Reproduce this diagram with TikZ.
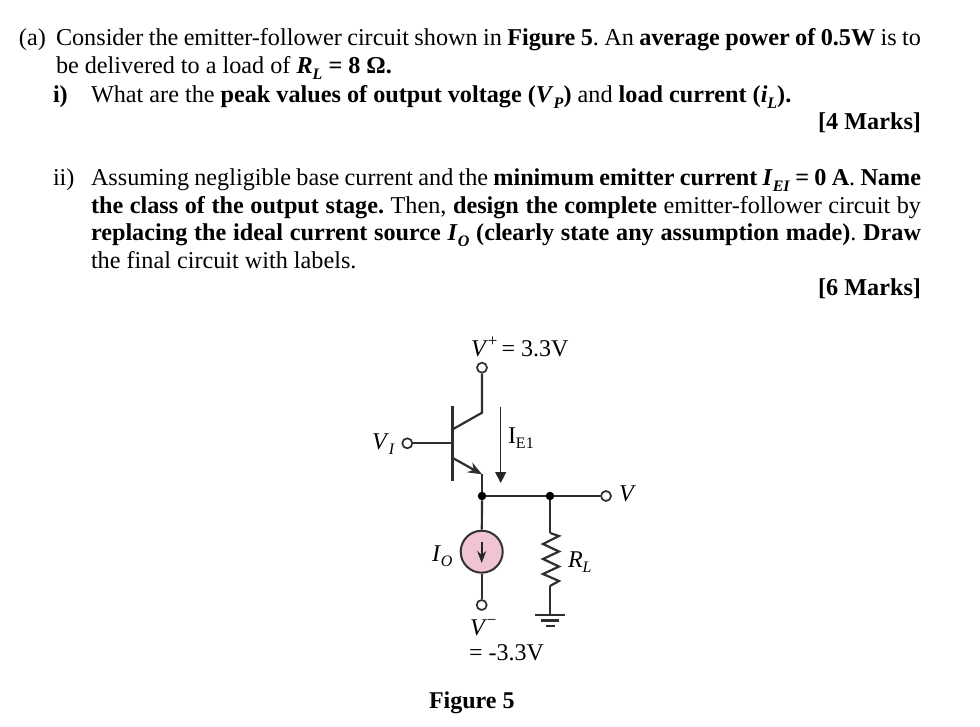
\documentclass[tikz,border=0pt]{standalone}
\usepackage{fontspec}
\setmainfont{Liberation Serif}
\usetikzlibrary{arrows.meta}
\frenchspacing
\newcommand{\lowtxt}[1]{\raisebox{-0.22em}{\fontsize{16}{16}\selectfont #1}}
\newcommand{\bi}[1]{\textbf{\textit{#1}}}
\newcommand{\fillline}[1]{\makebox[865pt][s]{#1}}
\newcommand{\fillb}[1]{\makebox[830pt][s]{#1}}
\tikzset{
  txt/.style={anchor=base west,inner sep=0pt,outer sep=0pt,font=\fontsize{24.2}{27}\selectfont},
  rtxt/.style={anchor=base east,inner sep=0pt,outer sep=0pt,font=\fontsize{24.2}{27}\selectfont},
  lab/.style={anchor=base west,inner sep=0pt,outer sep=0pt,font=\fontsize{24}{26}\selectfont},
  wire/.style={draw=black!82,line width=2.2pt},
  bar/.style={draw=black!82,line width=3.2pt},
  term/.style={circle,draw=black!82,line width=1.7pt,fill=white,minimum size=10pt,inner sep=0pt},
  junct/.style={circle,fill=black,minimum size=8.5pt,inner sep=0pt},
  src/.style={circle,draw=black!80,line width=2pt,fill=srcpink,minimum size=42pt,inner sep=0pt},
}
\definecolor{srcpink}{HTML}{F0C4D4}
\begin{document}
\begin{tikzpicture}[x=1pt,y=-1pt]
\useasboundingbox (0,0) rectangle (980,727);
% text
\node[txt] (t1a) at (19,46) {(a)};
\node[txt] (t1) at (56,46) {\fillline{Consider the emitter-follower circuit shown in \textbf{Figure 5}. An \textbf{average power of 0.5W} is to}};
\node[txt] (t2) at (56,74) {be delivered to a load of \bi{R}\lowtxt{\bi{L}} \textbf{= 8 Ω.}};
\node[txt] (t3a) at (53,103) {\textbf{i)}};
\node[txt] (t3) at (91,103) {What are the \textbf{peak values of output voltage (}\bi{V}\lowtxt{\bi{P}}\textbf{)} and \textbf{load current (}\bi{i}\lowtxt{\bi{L}}\textbf{).}};
\node[rtxt] (m1) at (921,130) {\textbf{[4 Marks]}};
\node[txt] (t4a) at (53,186) {ii)};
\node[txt] (t4) at (91,186) {\fillb{Assuming negligible base current and the \textbf{minimum emitter current} \bi{I}\lowtxt{\bi{EI}}\textbf{ = 0 A}. \textbf{Name}}};
\node[txt] (t5) at (91,214) {\fillb{\textbf{the class of the output stage.} Then, \textbf{design the complete} emitter-follower circuit by}};
\node[txt] (t6) at (91,241) {\fillb{\textbf{replacing the ideal current source} \bi{I}\lowtxt{\bi{O}} \textbf{(clearly state any assumption made)}. \textbf{Draw}}};
\node[txt] (t7) at (91,269) {the final circuit with labels.};
\node[rtxt] (m2) at (921,296) {\textbf{[6 Marks]}};
% circuit nodes
\node[term] (vp) at (482,367.7) {};
\coordinate (cj) at (482,412.7);
\coordinate (cb) at (453.3,429);
\coordinate (ej) at (482,474.3);
\coordinate (eb) at (453.3,458.3);
\coordinate (bt) at (452.7,406);
\coordinate (bb) at (452.7,480.7);
\coordinate (bm) at (452.7,443.3);
\node[term] (vi) at (407.3,443.3) {};
\node[junct] (n1) at (482,496) {};
\node[junct] (n2) at (550,496) {};
\node[term] (vo) at (606,496) {};
\node[src] (io) at (481.7,551.7) {};
\node[term] (vm) at (481.7,605) {};
\coordinate (rt) at (550,533);
\coordinate (rb) at (550,586);
\coordinate (g1l) at (535,615); \coordinate (g1r) at (565,615); \coordinate (gnd) at (550,615);
\coordinate (g2l) at (541,620.5); \coordinate (g2r) at (559,620.5);
\coordinate (g3l) at (546,626); \coordinate (g3r) at (555,626);
\coordinate (ia) at (500.7,407);
\coordinate (ib) at (500.7,483);
\coordinate (sa) at (481.7,542);
\coordinate (sb) at (481.7,563);
% wires
\draw[bar] (bt) -- (bb);
\draw[wire] (vp) -- (cj) -- (cb);
\draw[wire] (vi) -- (bm);
\draw[wire,-{Stealth[length=14pt,width=11pt]}] (eb) -- (ej);
\draw[wire] (ej) -- (n1);
\draw[wire] (n1) -- (n2) -- (vo);
\draw[wire] (n1) -- (io);
\draw[wire] (io) -- (vm);
\draw[wire] (n2) -- (rt);
\draw[wire,line join=miter] (rt) -- (559,536) -- (543,544) -- (559,551.5) -- (543,559) -- (559,566.5) -- (543,574) -- (559,581) -- (rb);
\draw[wire] (rb) -- (gnd);
\draw[wire] (g1l) -- (g1r);
\draw[wire] (g2l) -- (g2r);
\draw[wire] (g3l) -- (g3r);
\draw[draw=black!85,line width=1.1pt,-{Triangle[length=11pt,width=11pt]}] (ia) -- (ib);
\draw[draw=black!85,line width=1.6pt,-{Stealth[length=12pt,width=9pt]}] (sa) -- (sb);
% labels
\node[lab] (lvp) at (471,356) {\textit{V}\raisebox{0.4em}{\fontsize{17}{17}\selectfont +}\,= 3.3V};
\node[lab] (lie) at (508,443) {I\lowtxt{E1}};
\node[lab] (lvi) at (372,449) {\textit{V}\lowtxt{\textit{I}}};
\node[lab] (lvo) at (619,501) {\textit{V}};
\node[lab] (lio) at (432,561) {\textit{I}\lowtxt{\textit{O}}};
\node[lab] (lrl) at (568,567) {\textit{R}\lowtxt{\textit{L}}};
\node[lab] (lvm) at (470,635) {\textit{V}\raisebox{0.4em}{\fontsize{17}{17}\selectfont −}};
\node[lab] (lvv) at (469,660) {= -3.3V};
\node[lab] (fig) at (429,708) {\textbf{Figure 5}};
\end{tikzpicture}
\end{document}
